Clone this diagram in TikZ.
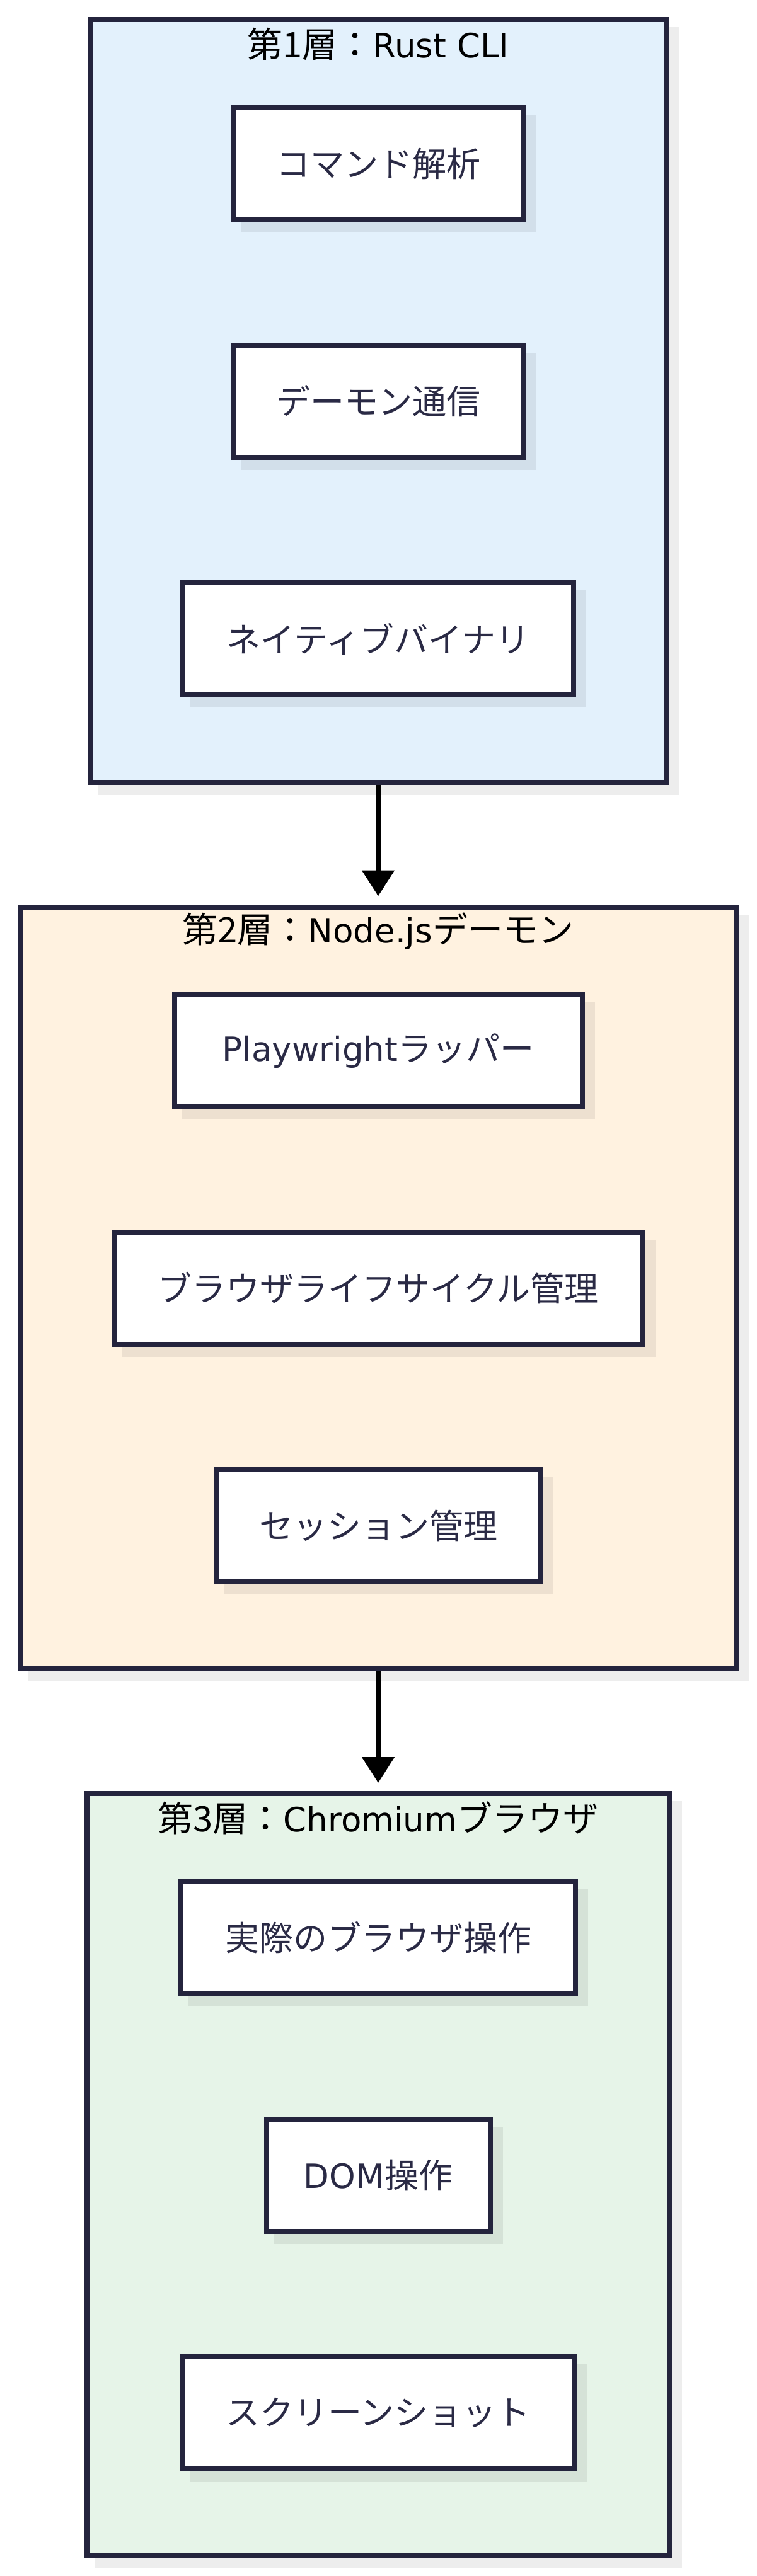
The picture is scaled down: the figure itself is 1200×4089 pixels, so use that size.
\documentclass[tikz,border=0pt]{standalone}
\usepackage{fontspec}
\setmainfont{Noto Sans CJK JP}
\newfontfamily\latf{DejaVu Sans}
\usetikzlibrary{arrows.meta}
\definecolor{bord}{HTML}{24243D}
\definecolor{txt}{HTML}{2A2A45}
\definecolor{bgA}{HTML}{E3F1FC}
\definecolor{bgB}{HTML}{FFF2E0}
\definecolor{bgC}{HTML}{E6F4E8}
\newcommand\figfont{\fontsize{54pt}{60pt}\selectfont}
\newcommand\ttlfont{\fontsize{56pt}{60pt}\selectfont}
\newcommand\latsz{\fontsize{53pt}{60pt}\selectfont}
\newcommand\shadowof[1]{\fill[shd] ([shift={(16pt,-16pt)}]#1.south west) rectangle ([shift={(16pt,-16pt)}]#1.north east);}
\pgfdeclarelayer{lshad}
\pgfdeclarelayer{lbox}
\pgfdeclarelayer{nshad}
\pgfsetlayers{lshad,lbox,nshad,main}
\begin{document}
\begin{tikzpicture}[x=1pt,y=-1pt,
  layerbox/.style={draw=bord,line width=8pt,inner sep=0pt},
  item/.style={draw=bord,line width=8pt,fill=white,minimum height=178pt,inner sep=0pt,text=txt,font=\figfont},
  ttl/.style={inner sep=0pt,text=black,font=\ttlfont},
  flow/.style={draw=black,line width=8pt,-{Triangle[width=50pt,length=41pt]}},
  shd/.style={fill=black,fill opacity=0.07}]
\useasboundingbox (0,0) rectangle (1200,4089);
\begin{pgfonlayer}{lbox}
\node[layerbox,fill=bgA,minimum width=913.7pt,minimum height=1210.5pt] (L1) at (600,636.75) {};
\node[layerbox,fill=bgB,minimum width=1136.3pt,minimum height=1209.5pt] (L2) at (600,2044.25) {};
\node[layerbox,fill=bgC,minimum width=923.4pt,minimum height=1210pt] (L3) at (600,3452) {};
\end{pgfonlayer}
\node[ttl] (T1) at (600,70.5) {第1層：{\latf\latsz Rust CLI}};
\node[ttl] (T2) at (600,1478.5) {第2層：{\latf\latsz Node.js}デーモン};
\node[ttl] (T3) at (600,2886) {第3層：{\latf\latsz Chromium}ブラウザ};
% layer 1
\node[item,minimum width=459pt] (a1) at (600,260) {コマンド解析};
\node[item,minimum width=459pt] (a2) at (600,637) {デーモン通信};
\node[item,minimum width=620pt] (a3) at (600,1014) {ネイティブバイナリ};
% layer 2
\node[item,minimum width=647pt] (b1) at (600,1668) {{\latf\latsz Playwright}ラッパー};
\node[item,minimum width=839pt] (b2) at (600,2045) {ブラウザライフサイクル管理};
\node[item,minimum width=515pt] (b3) at (600,2422) {セッション管理};
% layer 3
\node[item,minimum width=626pt] (c1) at (600,3075.5) {実際のブラウザ操作};
\node[item,minimum width=355pt] (c2) at (600,3452.5) {{\latf\latsz DOM}操作};
\node[item,minimum width=622pt] (c3) at (600,3829.5) {スクリーンショット};
\begin{pgfonlayer}{lshad}
\shadowof{L1}\shadowof{L2}\shadowof{L3}
\end{pgfonlayer}
\begin{pgfonlayer}{nshad}
\shadowof{a1}\shadowof{a2}\shadowof{a3}
\shadowof{b1}\shadowof{b2}\shadowof{b3}
\shadowof{c1}\shadowof{c2}\shadowof{c3}
\end{pgfonlayer}
\draw[flow] (L1.south) -- ([yshift=13pt]L2.north);
\draw[flow] (L2.south) -- ([yshift=13pt]L3.north);
\end{tikzpicture}
\end{document}
